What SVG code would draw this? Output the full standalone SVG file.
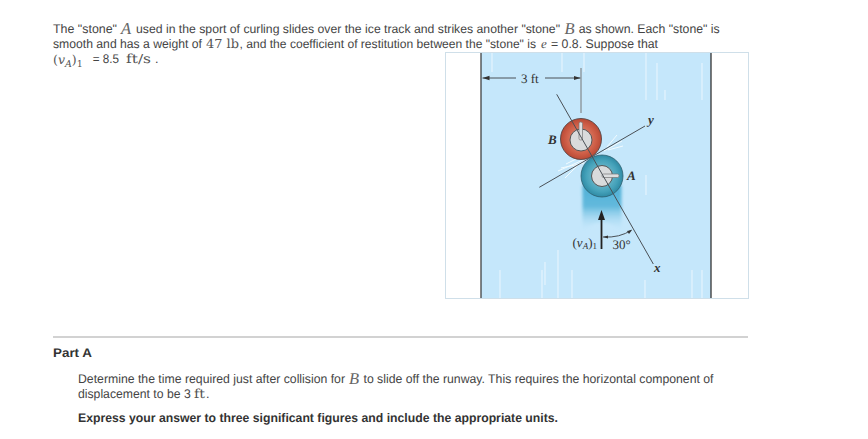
<svg xmlns="http://www.w3.org/2000/svg" width="868" height="439" viewBox="0 0 868 439">
<style>
text{text-rendering:geometricPrecision}
.t{font:12.500px "Liberation Sans",Arial,sans-serif;fill:#444}
.s{font-size:12.200px}
.b{font:bold 12.500px "Liberation Sans",Arial,sans-serif;fill:#333}
.m{font:12.500px "DejaVu Serif","Liberation Serif",serif;fill:#555}
.mi{font:italic 16.500px "Liberation Serif",serif;fill:#666}
.l{font:13px "Liberation Serif",serif;fill:#333}
.li{font:italic bold 13px "Liberation Serif",serif;fill:#333}
.st{fill:none;stroke:#e4f4fd;stroke-width:1.200}
.ax{fill:none;stroke:#4a5056;stroke-width:1}
.hub{fill:#d9dbdc;stroke:#555;stroke-width:1}
.hd{fill:#dcdedf;stroke:#777;stroke-width:.7}
</style>
<defs>
<radialGradient id="red"><stop offset="0" stop-color="#e59b86"/><stop offset=".75" stop-color="#cd5c45"/><stop offset="1" stop-color="#b84a36"/></radialGradient>
<radialGradient id="blue"><stop offset="0" stop-color="#8fc9d8"/><stop offset=".75" stop-color="#45a2ba"/><stop offset="1" stop-color="#2f8aa4"/></radialGradient>
<linearGradient id="tr" x1="0" y1="0" x2="0" y2="1"><stop offset="0" stop-color="#4fb0d6"/><stop offset=".45" stop-color="#62b9dc"/><stop offset="1" stop-color="#c5e7fb" stop-opacity="0"/></linearGradient>
<filter id="bl" x="-20%" y="-20%" width="140%" height="140%"><feGaussianBlur stdDeviation="1.500"/></filter>
<marker id="ah" markerWidth="8" markerHeight="6" refX="7" refY="3" orient="auto-start-reverse"><path d="M0 .8L7 3L0 5.200z" fill="#333"/></marker>
</defs>
<rect width="868" height="439" fill="#fff"/>
<g id="problem-text">
<text class="t" x="53" y="33" textLength="64" lengthAdjust="spacingAndGlyphs">The "stone"</text><text class="mi" x="121" y="34">A</text>
<text class="t s" x="136" y="33" textLength="424" lengthAdjust="spacingAndGlyphs">used in the sport of curling slides over the ice track and strikes another "stone"</text><text class="mi" x="564.500" y="34">B</text>
<text class="t" x="578.700" y="33" textLength="141" lengthAdjust="spacingAndGlyphs">as shown. Each "stone" is</text>
<text class="t" x="53" y="48" textLength="149" lengthAdjust="spacingAndGlyphs">smooth and has a weight of</text><text class="m" x="206" y="48" textLength="33" lengthAdjust="spacingAndGlyphs">47 lb</text>
<text class="t s" x="239.500" y="48" textLength="296.500" lengthAdjust="spacingAndGlyphs">, and the coefficient of restitution between the "stone" is</text><text x="541" y="48" font-family="Liberation Serif,serif" font-style="italic" font-size="13" fill="#555">e</text>
<text class="t" x="551" y="48" textLength="107" lengthAdjust="spacingAndGlyphs">= 0.8. Suppose that</text>
<text class="m" x="53" y="64" font-size="13.500">(<tspan font-style="italic">v</tspan><tspan font-size="9.500" font-style="italic" dy="3">A</tspan><tspan dy="-3">)</tspan><tspan font-size="9.500" dy="3">1</tspan></text>
<text class="t" x="92.700" y="63" textLength="26.300" lengthAdjust="spacingAndGlyphs">= 8.5</text><text class="m" x="126" y="63" textLength="25" lengthAdjust="spacingAndGlyphs">ft/s</text><text class="t" x="155" y="63">.</text>
</g>
<g id="figure">
<rect x="445.500" y="52.500" width="303" height="246" fill="#fff" stroke="#cfdfe9"/>
<rect x="481" y="53" width="230" height="245" fill="#c5e7fb"/>
<path class="st" d="M492 53V72M562 53V72M584 53V72M646 53V100M657 63V100M702 63V100M500 270V298M542 270V298M558 285V298M572 270V298M645 280V298M692 270V298M702 270V298M646 175V195M665 90V100M558 250V285M545 262V285"/>
<path d="M481 53V298" stroke="#333" stroke-width="1.200"/><path d="M711 53V298" stroke="#222" stroke-width="1.200"/>
<path d="M582.500 185H621.500V232Q602 212 582.500 232z" fill="url(#tr)" filter="url(#bl)"/>
<path d="M566 164L578 158M572 168L585 160M607 147L617 135M604 151L622 141M608 150L623 146M584 163L561 168M578 165L565 178M583 160L558 171" stroke="#f2fbff" stroke-width="1" fill="none"/>
<g id="connectors">
<path class="ax" d="M482.500 78H516" marker-start="url(#ah)"/>
<path class="ax" d="M545 78H580.500" marker-end="url(#ah)"/>
<path d="M581 68V113" stroke="#777" fill="none"/>
</g>
<g id="stone-B">
<circle cx="581" cy="139" r="20.500" fill="url(#red)" stroke="#4b3a38" stroke-width=".8"/>
<circle cx="581" cy="140" r="11" class="hub"/>
<rect x="579" y="122" width="3.500" height="18" rx="1.500" class="hd"/>
</g>
<g id="stone-A">
<circle cx="602" cy="176" r="21" fill="url(#blue)" stroke="#2d5f70" stroke-width=".8"/>
<circle cx="602" cy="176" r="10.500" class="hub"/>
<rect x="602" y="174" width="17" height="3.500" rx="1.500" class="hd"/>
</g>
<g id="axes">
<path class="ax" d="M556.700 94.300L653.300 264"/>
<path class="ax" d="M539.300 187.300L645 126"/>
<path d="M601.500 249V218" stroke="#222" stroke-width="1.800" fill="none"/><path d="M601.500 210L605 220H598z" fill="#222"/>
<path class="ax" d="M603 237Q620 238 631.500 230"/><path d="M603 237L608 235.500V238.500zM632 230L627 231L629 234z" fill="#333"/>
</g>
<text class="l" x="521" y="83" font-weight="bold" font-size="13.500">3 ft</text>
<text class="li" x="548" y="144">B</text>
<text class="li" x="627" y="180">A</text>
<text class="li" x="648" y="124">y</text>
<text class="li" x="654" y="272">x</text>
<text class="l" x="572.500" y="247" font-weight="bold">(<tspan font-style="italic">v</tspan><tspan font-size="9" font-style="italic" dy="2">A</tspan><tspan dy="-2">)</tspan><tspan font-size="9" dy="2">1</tspan></text>
<text class="l" x="612.500" y="249" font-weight="bold">30°</text>
</g>
<path id="divider" d="M53 337H748" stroke="#d2d2d2" stroke-width="2"/>
<g id="part-a">
<text class="b" x="53" y="357" textLength="39" lengthAdjust="spacingAndGlyphs">Part A</text>
<text class="t" x="78" y="383" textLength="267" lengthAdjust="spacingAndGlyphs">Determine the time required just after collision for</text><text class="mi" x="349" y="384">B</text>
<text class="t" x="363.500" y="383" textLength="350" lengthAdjust="spacingAndGlyphs">to slide off the runway. This requires the horizontal component of</text>
<text class="t" x="78" y="398" textLength="112.700" lengthAdjust="spacingAndGlyphs">displacement to be 3</text><text class="m" x="194" y="398" textLength="11" lengthAdjust="spacingAndGlyphs">ft</text><text class="t" x="206" y="398">.</text>
<text class="b" x="78" y="422" textLength="480" lengthAdjust="spacingAndGlyphs">Express your answer to three significant figures and include the appropriate units.</text>
</g>
</svg>
